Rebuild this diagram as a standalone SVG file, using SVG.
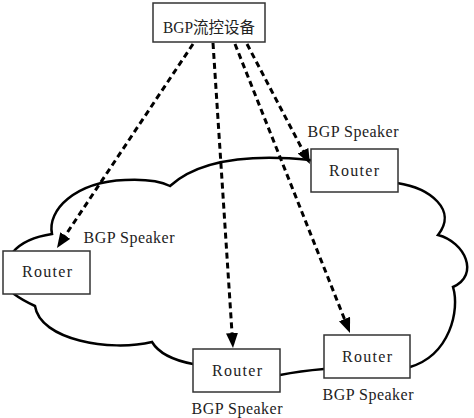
<svg xmlns="http://www.w3.org/2000/svg" width="474" height="418" viewBox="0 0 474 418">
<style>
.box{fill:#fff;stroke:#333;stroke-width:1.5}
.cloud{fill:none;stroke:#000;stroke-width:2.5}
.conn{stroke:#000;stroke-width:3;stroke-dasharray:6 4;fill:none}
.t{font-family:"Liberation Serif","Noto Sans CJK SC",serif;font-size:16px;fill:#222;text-anchor:middle}
.tt{font-family:"Liberation Serif","Noto Sans CJK SC",serif;font-size:16px;fill:#222;text-anchor:middle}
</style>
<defs>
<marker id="ah" markerUnits="userSpaceOnUse" markerWidth="15" markerHeight="12" refX="9" refY="6" orient="auto">
<path d="M0,0 L15,6 L0,12 z" fill="#000"/>
</marker>
</defs>
<g id="cloud">
<path class="cloud" d="M13,252 Q25,238 52,234 C47,210 75,182 125,180 C145,179 160,181 170,186 C190,168 230,152 310,160 L397,183 C430,188 458,210 438,235 C465,242 480,275 453,287 C460,310 450,355 410,367 L324,369 Q300,371 280,375 L193,364 C172,360 158,352 152,342 C110,352 40,340 35,306 Q22,300 14,294 Z"/>
</g>
<g id="connectors">
<line class="conn" x1="193" y1="44" x2="60.3" y2="243" marker-end="url(#ah)"/>
<line class="conn" x1="213" y1="43" x2="232.6" y2="342" marker-end="url(#ah)"/>
<line class="conn" x1="235" y1="44" x2="347.8" y2="327.4" marker-end="url(#ah)"/>
<line class="conn" x1="247" y1="44" x2="307.2" y2="158.7" marker-end="url(#ah)"/>
</g>
<g id="controller">
<rect class="box" x="153" y="3" width="112" height="39"/>
<text class="tt" x="209" y="33" textLength="92" lengthAdjust="spacingAndGlyphs">BGP流控设备</text>
</g>
<g id="router-left">
<rect class="box" x="3" y="251" width="87" height="43"/>
<text class="t" x="47" y="277" textLength="50">Router</text>
<text class="t" x="129" y="243" textLength="91">BGP Speaker</text>
</g>
<g id="router-top-right">
<rect class="box" x="311" y="149" width="87" height="43"/>
<text class="t" x="354" y="176" textLength="50">Router</text>
<text class="t" x="353" y="137" textLength="91">BGP Speaker</text>
</g>
<g id="router-bottom-left">
<rect class="box" x="193" y="349" width="87" height="43"/>
<text class="t" x="237" y="376" textLength="50">Router</text>
<text class="t" x="237" y="414" textLength="91">BGP Speaker</text>
</g>
<g id="router-bottom-right">
<rect class="box" x="324" y="335" width="86" height="43"/>
<text class="t" x="367" y="362" textLength="50">Router</text>
<text class="t" x="368" y="400" textLength="91">BGP Speaker</text>
</g>
</svg>
